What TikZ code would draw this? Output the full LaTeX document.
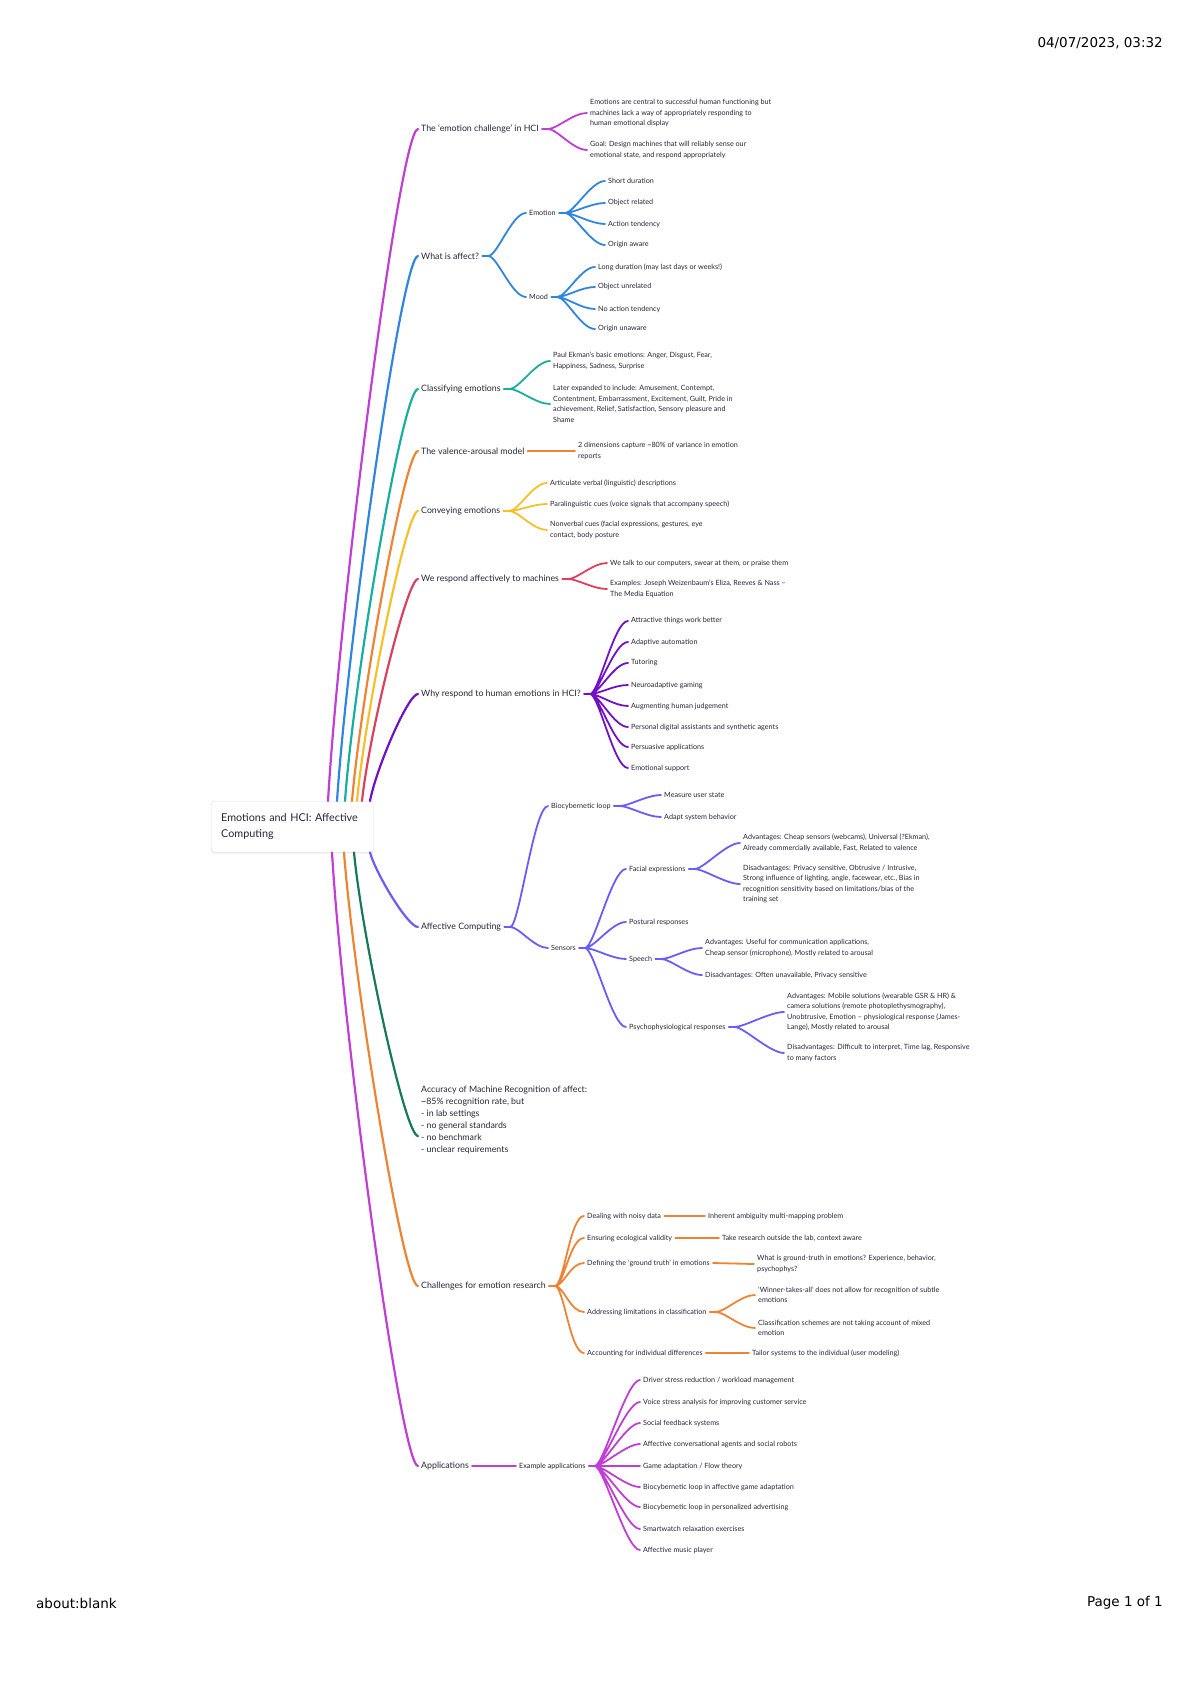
\documentclass[tikz,border=0pt]{standalone}
\usepackage{fontspec}
\setmainfont{Lato}
\newfontfamily\chromefont{DejaVu Sans}
\usepackage{xcolor}
\usepackage{tikz}
\usetikzlibrary{positioning, calc, shadows}

\definecolor{mapMagenta}{HTML}{C13ED4}
\definecolor{mapBlue}{HTML}{2E86DE}
\definecolor{mapTeal}{HTML}{18AE9E}
\definecolor{mapOrange}{HTML}{EE8433}
\definecolor{mapYellow}{HTML}{F6C02C}
\definecolor{mapRed}{HTML}{DA405F}
\definecolor{mapPurple}{HTML}{7011C6}
\definecolor{mapIndigo}{HTML}{6A5CF6}
\definecolor{mapGreen}{HTML}{17785A}
\definecolor{inkDark}{HTML}{262638}
\definecolor{rootEdge}{HTML}{DDDDDD}

\newcommand{\leafsize}{\fontsize{7.2}{10.5}\selectfont}
\newcommand{\topicsize}{\fontsize{8.8}{12}\selectfont}
\newcommand{\rootsize}{\fontsize{10.8}{16}\selectfont}
\newcommand{\chromesize}{\fontsize{13.5}{16}\selectfont}

\begin{document}
\begin{tikzpicture}[
  x=1pt, y=-1pt,
  txt/.style={anchor=west, inner xsep=3pt, inner ysep=1pt, align=left, text=inkDark, font=\leafsize},
  topic/.style={txt, font=\topicsize},
  rootbox/.style={draw=rootEdge, fill=white, rounded corners=3pt, text width=142pt, minimum height=51pt,
    inner xsep=10pt, align=left, text=inkDark, font=\rootsize,
    drop shadow={opacity=0.12, shadow xshift=0pt, shadow yshift=-1.5pt}},
  chrome/.style={inner sep=0pt, text=black, font=\chromefont\chromesize},
  trunk/.style={line width=2.2pt, line cap=round},
  twig/.style={line width=1.8pt, line cap=round},
  fan/.style={to path={.. controls +(9,0) and +(-14,0) .. (\tikztotarget)}}
]
  \useasboundingbox (0,0) rectangle (1200,1696);

  % browser print header and footer
  \node[chrome, anchor=east] (stamp) at (1163,43) {04/07/2023, 03:32};
  \node[chrome, anchor=west] (url) at (36,1603) {about:blank};
  \node[chrome, anchor=east] (pageno) at (1163,1603) {Page 1 of 1};

  % central topic
  \node[rootbox, anchor=north west] (root) at (211,801) {Emotions and HCI: Affective\\Computing};

  % main topics
  \node[topic] (chal) at (418,129) {The `emotion challenge' in HCI};
  \node[topic] (affect) at (418,256) {What is affect?};
  \node[topic] (classify) at (418,389) {Classifying emotions};
  \node[topic] (valence) at (418,451) {The valence-arousal model};
  \node[topic] (convey) at (418,511) {Conveying emotions};
  \node[topic] (respond) at (418,579) {We respond affectively to machines};
  \node[topic] (why) at (418,694) {Why respond to human emotions in HCI?};
  \node[topic] (affcomp) at (418,927) {Affective Computing};
  \node[topic] (accuracy) at (418,1120.5) {Accuracy of Machine Recognition of affect:\\\textasciitilde85\% recognition rate, but\\- in lab settings\\- no general standards\\- no benchmark\\- unclear requirements};
  \node[topic] (research) at (418,1286) {Challenges for emotion research};
  \node[topic] (apps) at (418,1466) {Applications};

  % trunks from the central topic
  \draw[trunk, mapMagenta] (root.north west) ++(117,0) .. controls (340,599) and (400,129) .. (chal.west);
  \draw[trunk, mapBlue] (root.north west) ++(126,0) .. controls (348,637) and (402,256) .. (affect.west);
  \draw[trunk, mapTeal] (root.north west) ++(134,0) .. controls (354,677) and (403,389) .. (classify.west);
  \draw[trunk, mapOrange] (root.north west) ++(141,0) .. controls (361,696) and (405,451) .. (valence.west);
  \draw[trunk, mapYellow] (root.north west) ++(146,0) .. controls (365,714) and (406,511) .. (convey.west);
  \draw[trunk, mapRed] (root.north west) ++(151,0) .. controls (369,734) and (407,579) .. (respond.west);
  \draw[trunk, mapPurple] (root.north west) ++(159,0) .. controls (376,769) and (408,694) .. (why.west);
  \draw[trunk, mapIndigo] (root.south west) ++(159,0) .. controls (376,874) and (408,927) .. (affcomp.west);
  \draw[trunk, mapGreen] (root.south west) ++(143,0) .. controls (362,937) and (405,1136) .. ([yshift=-15.5pt]accuracy.west);
  \draw[trunk, mapOrange] (root.south west) ++(133,0) .. controls (354,982) and (403,1286) .. (research.west);
  \draw[trunk, mapMagenta] (root.south west) ++(121,0) .. controls (343,1036) and (401,1466) .. (apps.west);

  % emotion challenge
  \node[txt] (chalA) at (587,113) {Emotions are central to successful human functioning but\\machines lack a way of appropriately responding to\\human emotional display};
  \node[txt] (chalB) at (587,150) {Goal: Design machines that will reliably sense our\\emotional state, and respond appropriately};
  \draw[twig, mapMagenta] (chal.east) -- ++(6,0) coordinate (chalF) to[fan] (chalA.west) (chalF) to[fan] (chalB.west);

  % what is affect
  \node[txt] (emotion) at (526,213) {Emotion};
  \node[txt] (mood) at (526,297) {Mood};
  \node[txt] (emoA) at (605,181) {Short duration};
  \node[txt] (emoB) at (605,203) {Object related};
  \node[txt] (emoC) at (605,224) {Action tendency};
  \node[txt] (emoD) at (605,245) {Origin aware};
  \node[txt] (moodA) at (595,267) {Long duration (may last days or weeks!)};
  \node[txt] (moodB) at (595,287) {Object unrelated};
  \node[txt] (moodC) at (595,309) {No action tendency};
  \node[txt] (moodD) at (595,329) {Origin unaware};
  \draw[twig, mapBlue] (affect.east) -- ++(6,0) coordinate (affectF) to[fan] (emotion.west) (affectF) to[fan] (mood.west);
  \draw[twig, mapBlue] (emotion.east) -- ++(6,0) coordinate (emotionF) to[fan] (emoA.west) (emotionF) to[fan] (emoB.west)
    (emotionF) to[fan] (emoC.west) (emotionF) to[fan] (emoD.west);
  \draw[twig, mapBlue] (mood.east) -- ++(6,0) coordinate (moodF) to[fan] (moodA.west) (moodF) to[fan] (moodB.west)
    (moodF) to[fan] (moodC.west) (moodF) to[fan] (moodD.west);

  % classifying emotions
  \node[txt] (classA) at (550,361) {Paul Ekman's basic emotions: Anger, Disgust, Fear,\\Happiness, Sadness, Surprise};
  \node[txt] (classB) at (550,404) {Later expanded to include: Amusement, Contempt,\\Contentment, Embarrassment, Excitement, Guilt, Pride in\\achievement, Relief, Satisfaction, Sensory pleasure and\\Shame};
  \draw[twig, mapTeal] (classify.east) -- ++(6,0) coordinate (classF) to[fan] (classA.west) (classF) to[fan] (classB.west);

  % valence-arousal
  \node[txt] (valA) at (575,451) {2 dimensions capture \textasciitilde80\% of variance in emotion\\reports};
  \draw[twig, mapOrange] (valence.east) -- (valA.west);

  % conveying emotions
  \node[txt] (convA) at (547,483) {Articulate verbal (linguistic) descriptions};
  \node[txt] (convB) at (547,504) {Paralinguistic cues (voice signals that accompany speech)};
  \node[txt] (convC) at (547,530) {Nonverbal cues (facial expressions, gestures, eye\\contact, body posture};
  \draw[twig, mapYellow] (convey.east) -- ++(6,0) coordinate (convF) to[fan] (convA.west) (convF) to[fan] (convB.west)
    (convF) to[fan] (convC.west);

  % responding to machines
  \node[txt] (respA) at (607,563) {We talk to our computers, swear at them, or praise them};
  \node[txt] (respB) at (607,589) {Examples: Joseph Weizenbaum's Eliza, Reeves \& Nass --\\The Media Equation};
  \draw[twig, mapRed] (respond.east) -- ++(6,0) coordinate (respF) to[fan] (respA.west) (respF) to[fan] (respB.west);

  % why respond
  \node[txt] (whyA) at (628,621) {Attractive things work better};
  \node[txt] (whyB) at (628,642) {Adaptive automation};
  \node[txt] (whyC) at (628,663) {Tutoring};
  \node[txt] (whyD) at (628,685) {Neuroadaptive gaming};
  \node[txt] (whyE) at (628,706) {Augmenting human judgement};
  \node[txt] (whyF) at (628,727) {Personal digital assistants and synthetic agents};
  \node[txt] (whyG) at (628,747) {Persuasive applications};
  \node[txt] (whyH) at (628,768) {Emotional support};
  \draw[twig, mapPurple] (why.east) -- ++(6,0) coordinate (whyFk) to[fan] (whyA.west) (whyFk) to[fan] (whyB.west)
    (whyFk) to[fan] (whyC.west) (whyFk) to[fan] (whyD.west) (whyFk) to[fan] (whyE.west)
    (whyFk) to[fan] (whyF.west) (whyFk) to[fan] (whyG.west) (whyFk) to[fan] (whyH.west);

  % affective computing
  \node[txt] (bioloop) at (548,806) {Biocybernetic loop};
  \node[txt] (sensors) at (548,948) {Sensors};
  \node[txt] (bioA) at (661,795) {Measure user state};
  \node[txt] (bioB) at (661,817) {Adapt system behavior};
  \node[txt] (facial) at (626,869) {Facial expressions};
  \node[txt] (postural) at (626,922) {Postural responses};
  \node[txt] (speech) at (626,959) {Speech};
  \node[txt] (psycho) at (626,1027) {Psychophysiological responses};
  \node[txt] (facialA) at (740,843) {Advantages: Cheap sensors (webcams), Universal (?Ekman),\\Already commercially available, Fast, Related to valence};
  \node[txt] (facialB) at (740,884) {Disadvantages: Privacy sensitive, Obtrusive / Intrusive,\\Strong influence of lighting, angle, facewear, etc., Bias in\\recognition sensitivity based on limitations/bias of the\\training set};
  \node[txt] (speechA) at (702,948) {Advantages: Useful for communication applications,\\Cheap sensor (microphone), Mostly related to arousal};
  \node[txt] (speechB) at (702,975) {Disadvantages: Often unavailable, Privacy sensitive};
  \node[txt] (psychoA) at (784,1012) {Advantages: Mobile solutions (wearable GSR \& HR) \&\\camera solutions (remote photoplethysmography),\\Unobtrusive, Emotion -- physiological response (James-\\Lange), Mostly related to arousal};
  \node[txt] (psychoB) at (784,1053) {Disadvantages: Difficult to interpret, Time lag, Responsive\\to many factors};
  \draw[twig, mapIndigo] (affcomp.east) -- ++(6,0) coordinate (affF) to[fan] (bioloop.west) (affF) to[fan] (sensors.west);
  \draw[twig, mapIndigo] (bioloop.east) -- ++(6,0) coordinate (bioF) to[fan] (bioA.west) (bioF) to[fan] (bioB.west);
  \draw[twig, mapIndigo] (sensors.east) -- ++(6,0) coordinate (sensF) to[fan] (facial.west) (sensF) to[fan] (postural.west)
    (sensF) to[fan] (speech.west) (sensF) to[fan] (psycho.west);
  \draw[twig, mapIndigo] (facial.east) -- ++(6,0) coordinate (facF) to[fan] (facialA.west) (facF) to[fan] (facialB.west);
  \draw[twig, mapIndigo] (speech.east) -- ++(6,0) coordinate (speF) to[fan] (speechA.west) (speF) to[fan] (speechB.west);
  \draw[twig, mapIndigo] (psycho.east) -- ++(6,0) coordinate (psyF) to[fan] (psychoA.west) (psyF) to[fan] (psychoB.west);

  % challenges for emotion research
  \node[txt] (noisy) at (584,1216) {Dealing with noisy data};
  \node[txt] (ecolog) at (584,1238) {Ensuring ecological validity};
  \node[txt] (truth) at (584,1263) {Defining the `ground truth' in emotions};
  \node[txt] (limits) at (584,1312) {Addressing limitations in classification};
  \node[txt] (indiv) at (584,1353) {Accounting for individual differences};
  \node[txt] (noisyA) at (705,1216) {Inherent ambiguity multi-mapping problem};
  \node[txt] (ecologA) at (719,1238) {Take research outside the lab, context aware};
  \node[txt] (truthA) at (754,1264) {What is ground-truth in emotions? Experience, behavior,\\psychophys?};
  \node[txt] (limitsA) at (755,1295) {`Winner-takes-all' does not allow for recognition of subtle\\emotions};
  \node[txt] (limitsB) at (755,1328) {Classification schemes are not taking account of mixed\\emotion};
  \node[txt] (indivA) at (749,1353) {Tailor systems to the individual (user modeling)};
  \draw[twig, mapOrange] (research.east) -- ++(6,0) coordinate (resF) to[fan] (noisy.west) (resF) to[fan] (ecolog.west)
    (resF) to[fan] (truth.west) (resF) to[fan] (limits.west) (resF) to[fan] (indiv.west);
  \draw[twig, mapOrange] (noisy.east) -- (noisyA.west);
  \draw[twig, mapOrange] (ecolog.east) -- (ecologA.west);
  \draw[twig, mapOrange] (truth.east) -- (truthA.west);
  \draw[twig, mapOrange] (limits.east) -- ++(6,0) coordinate (limF) to[fan] (limitsA.west) (limF) to[fan] (limitsB.west);
  \draw[twig, mapOrange] (indiv.east) -- (indivA.west);

  % applications
  \node[txt] (examples) at (516,1466) {Example applications};
  \node[txt] (appA) at (640,1380) {Driver stress reduction / workload management};
  \node[txt] (appB) at (640,1402) {Voice stress analysis for improving customer service};
  \node[txt] (appC) at (640,1423) {Social feedback systems};
  \node[txt] (appD) at (640,1444) {Affective conversational agents and social robots};
  \node[txt] (appE) at (640,1466) {Game adaptation / Flow theory};
  \node[txt] (appF) at (640,1487) {Biocybernetic loop in affective game adaptation};
  \node[txt] (appG) at (640,1507) {Biocybernetic loop in personalized advertising};
  \node[txt] (appH) at (640,1529) {Smartwatch relaxation exercises};
  \node[txt] (appI) at (640,1550) {Affective music player};
  \draw[twig, mapMagenta] (apps.east) -- (examples.west);
  \draw[twig, mapMagenta] (examples.east) -- ++(6,0) coordinate (exF) to[fan] (appA.west) (exF) to[fan] (appB.west)
    (exF) to[fan] (appC.west) (exF) to[fan] (appD.west) (exF) to[fan] (appE.west) (exF) to[fan] (appF.west)
    (exF) to[fan] (appG.west) (exF) to[fan] (appH.west) (exF) to[fan] (appI.west);
\end{tikzpicture}
\end{document}
